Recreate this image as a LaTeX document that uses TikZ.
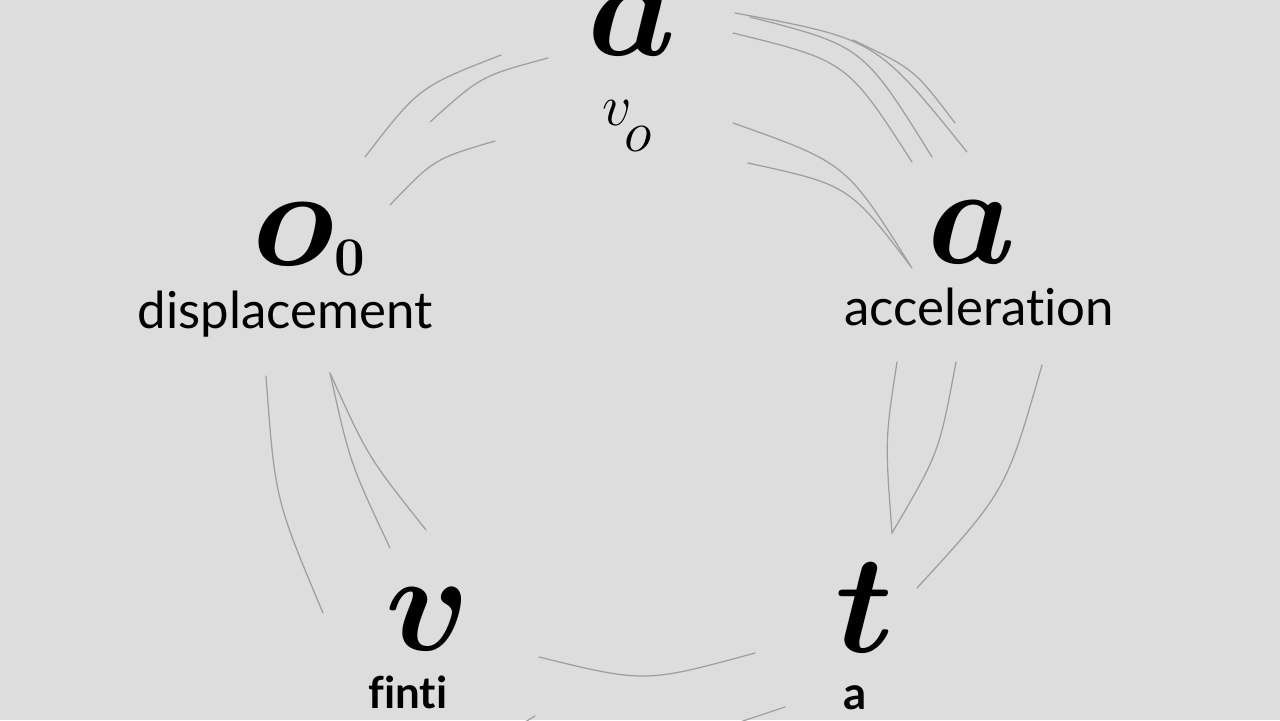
\RequirePackage{fix-cm}
\documentclass[tikz,border=0pt]{standalone}
\usepackage{fontspec}
\setsansfont{Lato}[Ligatures=NoCommon]
\definecolor{bggray}{RGB}{221,221,221}
\definecolor{swoosh}{RGB}{158,158,158}
\begin{document}
\begin{tikzpicture}[x=0.02cm,y=-0.02cm,
		sym/.style={inner sep=0pt,anchor=base,font=\fontsize{80}{84}\selectfont\boldmath},
		lbl/.style={inner sep=0pt,anchor=base,font=\sffamily\fontsize{29}{32}\selectfont},
		arc/.style={draw=swoosh,line width=0.7pt,line cap=round}]
	\fill[bggray] (0,0) rectangle (1280,720);
	\useasboundingbox (0,0) rectangle (1280,720);
	% letters and words
	\node[sym] (top) at (632,55) {$a$};
	\node[inner sep=0pt,anchor=base west,font=\fontsize{33}{36}\selectfont] (vnull) at (602,125) {$v$\kern-4pt\raisebox{-15pt}{$o$}};
	\node[sym,anchor=base west] (disp) at (252,265) {$o$\raisebox{-6pt}{\fontsize{31}{31}\selectfont\textbf{0}}};
	\node[lbl] (displbl) at (285,328) {displacement};
	\node[sym] (acc) at (972,263) {$a$};
	\node[lbl] (acclbl) at (979,325) {acceleration};
	\node[sym] (vel) at (428,650) {$v$};
	\node[lbl,anchor=base west,font=\sffamily\bfseries\fontsize{25}{28}\selectfont] (vellbl) at (368,708) {finti};
	\node[sym] (time) at (865,652) {$t$};
	\node[lbl,font=\sffamily\bfseries\fontsize{26}{28}\selectfont] (timelbl) at (855,709) {a};
	% swooshes round the circle
	\draw[arc] (365,157) .. controls (419,87) .. (501,55);
	\draw[arc] (430,122) .. controls (481,76) .. (548,58);
	\draw[arc] (390,205) .. controls (434,159) .. (495,141);
	\draw[arc] (735,13) .. controls (876,39) .. (967,152);
	\draw[arc] (750,17) .. controls (863,46) .. (932,157);
	\draw[arc] (733,33) .. controls (847,61) .. (912,162);
	\draw[arc] (853,40) .. controls (914,69) .. (955,123);
	\draw[arc] (733,123) .. controls (846,163) .. (910,265);
	\draw[arc] (748,163) .. controls (849,185) .. (912,268);
	\draw[arc] (897,362) .. controls (885,440) .. (892,533);
	\draw[arc] (956,362) .. controls (939,453) .. (892,533);
	\draw[arc] (1042,365) .. controls (1006,491) .. (917,588);
	\draw[arc] (266,376) .. controls (275,499) .. (323,613);
	\draw[arc] (330,373) .. controls (350,463) .. (390,548);
	\draw[arc] (330,373) .. controls (368,457) .. (426,530);
	\draw[arc] (539,657) .. controls (645,683) .. (755,653);
	\draw[arc] (740,722) -- (785,707);
	\draw[arc] (525,722) -- (535,716);
\end{tikzpicture}
\end{document}
